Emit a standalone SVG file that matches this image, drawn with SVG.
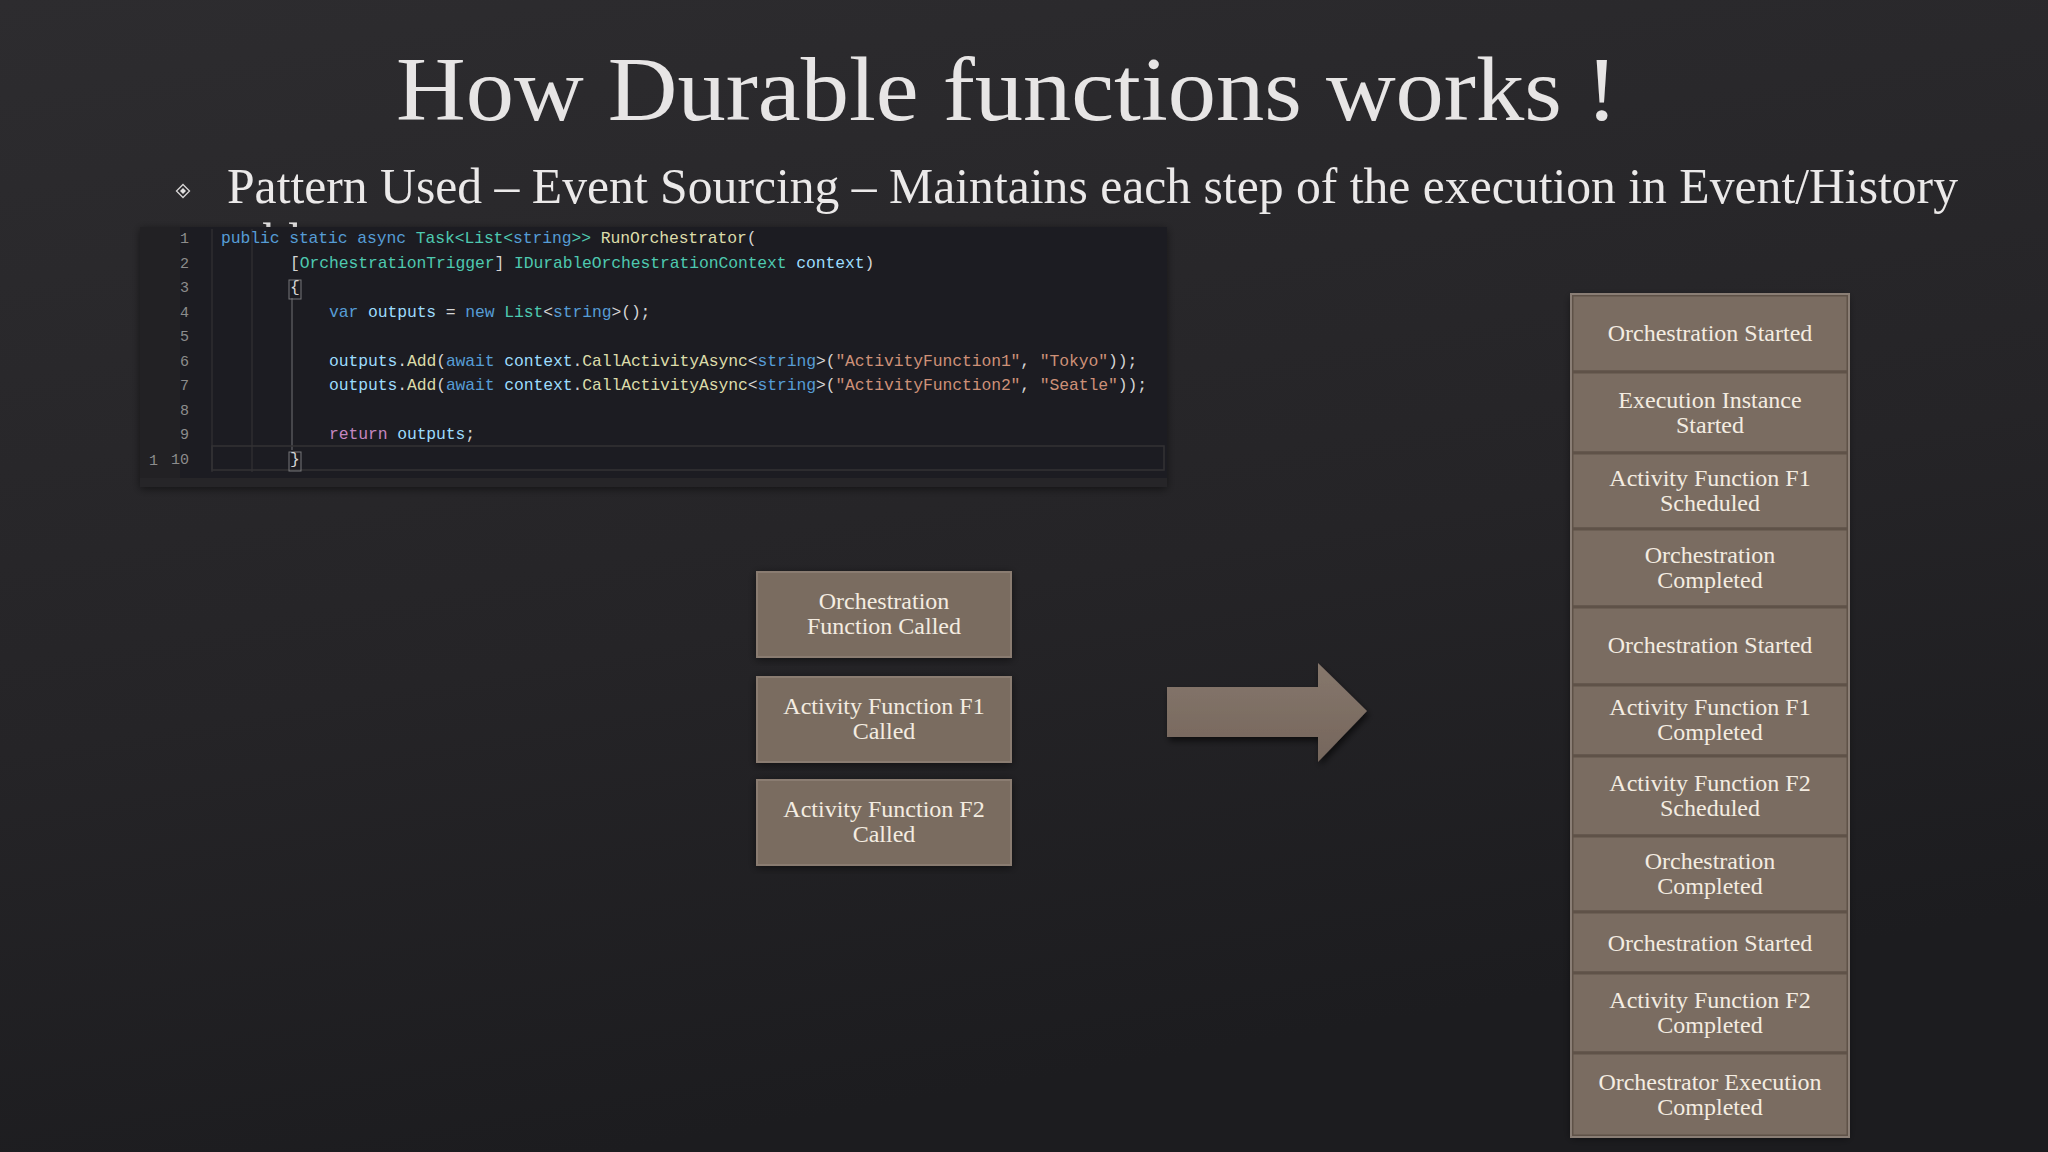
<svg xmlns="http://www.w3.org/2000/svg" width="2048" height="1152" viewBox="0 0 2048 1152">
<style>
.title{font-family:"Liberation Serif","DejaVu Serif",serif;font-size:90px;fill:#e7e5e5}
.bullet{font-family:"Liberation Serif","DejaVu Serif",serif;font-size:50px;fill:#ebe9e9}
.lbl{font-family:"Liberation Serif","DejaVu Serif",serif;font-size:24px;fill:#f4ece1;text-anchor:middle}
.box{fill:#7a6c61;stroke:#8a7c71;stroke-width:2}
.row{fill:#7a6c61;stroke:#5f5248;stroke-width:3}
.code{font-family:"Liberation Mono","DejaVu Sans Mono",monospace;font-size:16.4px;letter-spacing:-0.1px;white-space:pre}
.ln{font-family:"Liberation Mono","DejaVu Sans Mono",monospace;font-size:15px;fill:#8c8c8c;text-anchor:end}
.kw{fill:#569cd6}.ty{fill:#4ec9b0}.fn{fill:#dcdcaa}.va{fill:#9cdcfe}.st{fill:#ce9178}.ct{fill:#c586c0}.pn{fill:#d4d4d4}
</style>
<defs>
<linearGradient id="bg" x1="0" y1="0" x2="0.3" y2="1">
<stop offset="0" stop-color="#2d2c2f"/>
<stop offset="0.6" stop-color="#252427"/>
<stop offset="1" stop-color="#1c1c1f"/>
</linearGradient>
<linearGradient id="arrowFill" x1="0" y1="0" x2="0" y2="1">
<stop offset="0" stop-color="#86776c"/>
<stop offset="1" stop-color="#75665c"/>
</linearGradient>
<filter id="shadow" x="-20%" y="-20%" width="140%" height="150%">
<feDropShadow dx="2" dy="4" stdDeviation="3" flood-color="#000" flood-opacity="0.6"/>
</filter>
<filter id="soft" x="-5%" y="-10%" width="110%" height="120%">
<feDropShadow dx="0" dy="2" stdDeviation="4" flood-color="#000" flood-opacity="0.5"/>
</filter>
</defs>

<rect x="0" y="0" width="2048" height="1152" fill="url(#bg)"/>

<g id="title">
<text class="title" x="396" y="120" textLength="1222" lengthAdjust="spacingAndGlyphs">How Durable functions works !</text>
</g>

<g id="bullet">
<polygon points="183,184.5 189.5,191 183,197.5 176.5,191" fill="none" stroke="#d8d6d6" stroke-width="1.3"/>
<polygon points="183,188 186,191 183,194 180,191" fill="#e2e0e0"/>
<text class="bullet" x="227" y="203" textLength="1731" lengthAdjust="spacingAndGlyphs">Pattern Used – Event Sourcing – Maintains each step of the execution in Event/History</text>
<text class="bullet" x="227" y="258">table</text>
</g>

<g id="code-panel">
<rect x="140" y="227" width="1027" height="260" fill="#1f1e20" filter="url(#soft)"/>
<rect x="140" y="227" width="40" height="260" fill="#222124"/>
<rect x="140" y="478" width="1027" height="9" fill="#262528"/>
<line x1="212" y1="229" x2="212" y2="472" stroke="#2e2d30" stroke-width="1.5"/>
<line x1="252" y1="229" x2="252" y2="472" stroke="#2e2d30" stroke-width="1.5"/>
<line x1="292" y1="298" x2="292" y2="450" stroke="#55555a" stroke-width="1.5"/>
<rect x="212" y="446" width="952" height="24" fill="none" stroke="#333235" stroke-width="1.5"/>
<rect x="289" y="280" width="12" height="19" fill="none" stroke="#77777a" stroke-width="1"/>
<rect x="289" y="452" width="12" height="19" fill="none" stroke="#77777a" stroke-width="1"/>
<text class="ln" x="189" y="243">1</text>
<text class="ln" x="189" y="267.5">2</text>
<text class="ln" x="189" y="292">3</text>
<text class="ln" x="189" y="316.5">4</text>
<text class="ln" x="189" y="341">5</text>
<text class="ln" x="189" y="365.5">6</text>
<text class="ln" x="189" y="390">7</text>
<text class="ln" x="189" y="414.5">8</text>
<text class="ln" x="189" y="439">9</text>
<text class="ln" x="189" y="463.5">10</text>
<text class="ln" x="158" y="465">1</text>
<text class="code" x="221" y="243"><tspan class="kw">public static async </tspan><tspan class="ty">Task&lt;List&lt;</tspan><tspan class="kw">string</tspan><tspan class="ty">&gt;&gt; </tspan><tspan class="fn">RunOrchestrator</tspan><tspan class="pn">(</tspan></text>
<text class="code" x="290" y="267.5"><tspan class="pn">[</tspan><tspan class="ty">OrchestrationTrigger</tspan><tspan class="pn">] </tspan><tspan class="ty">IDurableOrchestrationContext </tspan><tspan class="va">context</tspan><tspan class="pn">)</tspan></text>
<text class="code" x="290" y="292"><tspan class="pn">{</tspan></text>
<text class="code" x="329" y="316.5"><tspan class="kw">var </tspan><tspan class="va">outputs </tspan><tspan class="pn">= </tspan><tspan class="kw">new </tspan><tspan class="ty">List</tspan><tspan class="pn">&lt;</tspan><tspan class="kw">string</tspan><tspan class="pn">&gt;();</tspan></text>
<text class="code" x="329" y="365.5"><tspan class="va">outputs</tspan><tspan class="pn">.</tspan><tspan class="fn">Add</tspan><tspan class="pn">(</tspan><tspan class="kw">await </tspan><tspan class="va">context</tspan><tspan class="pn">.</tspan><tspan class="fn">CallActivityAsync</tspan><tspan class="pn">&lt;</tspan><tspan class="kw">string</tspan><tspan class="pn">&gt;(</tspan><tspan class="st">"ActivityFunction1"</tspan><tspan class="pn">, </tspan><tspan class="st">"Tokyo"</tspan><tspan class="pn">));</tspan></text>
<text class="code" x="329" y="390"><tspan class="va">outputs</tspan><tspan class="pn">.</tspan><tspan class="fn">Add</tspan><tspan class="pn">(</tspan><tspan class="kw">await </tspan><tspan class="va">context</tspan><tspan class="pn">.</tspan><tspan class="fn">CallActivityAsync</tspan><tspan class="pn">&lt;</tspan><tspan class="kw">string</tspan><tspan class="pn">&gt;(</tspan><tspan class="st">"ActivityFunction2"</tspan><tspan class="pn">, </tspan><tspan class="st">"Seatle"</tspan><tspan class="pn">));</tspan></text>
<text class="code" x="329" y="439"><tspan class="ct">return </tspan><tspan class="va">outputs</tspan><tspan class="pn">;</tspan></text>
<text class="code" x="290" y="463.5"><tspan class="pn">}</tspan></text>
</g>

<g id="node-orchestration-called">
<rect class="box" x="757" y="572" width="254" height="85" filter="url(#soft)"/>
<text class="lbl" x="884" y="609">Orchestration</text>
<text class="lbl" x="884" y="634">Function Called</text>
</g>
<g id="node-f1-called">
<rect class="box" x="757" y="677" width="254" height="85" filter="url(#soft)"/>
<text class="lbl" x="884" y="714">Activity Function F1</text>
<text class="lbl" x="884" y="739">Called</text>
</g>
<g id="node-f2-called">
<rect class="box" x="757" y="780" width="254" height="85" filter="url(#soft)"/>
<text class="lbl" x="884" y="817">Activity Function F2</text>
<text class="lbl" x="884" y="842">Called</text>
</g>

<g id="connectors">
<polygon points="1167,687 1318,687 1318,663 1367,711 1318,762 1318,737 1167,737" fill="url(#arrowFill)" filter="url(#shadow)"/>
</g>

<g id="history-table">
<rect x="1571" y="295" width="277" height="841" fill="#7a6c61" filter="url(#soft)"/>
<g id="h1"><rect class="row" x="1572" y="295" width="276" height="77"/><text class="lbl" x="1710" y="341">Orchestration Started</text></g>
<g id="h2"><rect class="row" x="1572" y="372" width="276" height="81"/><text class="lbl" x="1710" y="408">Execution Instance</text><text class="lbl" x="1710" y="433">Started</text></g>
<g id="h3"><rect class="row" x="1572" y="453" width="276" height="76"/><text class="lbl" x="1710" y="486">Activity Function F1</text><text class="lbl" x="1710" y="511">Scheduled</text></g>
<g id="h4"><rect class="row" x="1572" y="529" width="276" height="78"/><text class="lbl" x="1710" y="563">Orchestration</text><text class="lbl" x="1710" y="588">Completed</text></g>
<g id="h5"><rect class="row" x="1572" y="607" width="276" height="78"/><text class="lbl" x="1710" y="653">Orchestration Started</text></g>
<g id="h6"><rect class="row" x="1572" y="685" width="276" height="71"/><text class="lbl" x="1710" y="715">Activity Function F1</text><text class="lbl" x="1710" y="740">Completed</text></g>
<g id="h7"><rect class="row" x="1572" y="756" width="276" height="80"/><text class="lbl" x="1710" y="791">Activity Function F2</text><text class="lbl" x="1710" y="816">Scheduled</text></g>
<g id="h8"><rect class="row" x="1572" y="836" width="276" height="76"/><text class="lbl" x="1710" y="869">Orchestration</text><text class="lbl" x="1710" y="894">Completed</text></g>
<g id="h9"><rect class="row" x="1572" y="912" width="276" height="61"/><text class="lbl" x="1710" y="951">Orchestration Started</text></g>
<g id="h10"><rect class="row" x="1572" y="973" width="276" height="80"/><text class="lbl" x="1710" y="1008">Activity Function F2</text><text class="lbl" x="1710" y="1033">Completed</text></g>
<g id="h11"><rect class="row" x="1572" y="1053" width="276" height="83"/><text class="lbl" x="1710" y="1090">Orchestrator Execution</text><text class="lbl" x="1710" y="1115">Completed</text></g>
<rect x="1571" y="294" width="278" height="843" fill="none" stroke="#8a7e75" stroke-width="2"/>
</g>
</svg>
